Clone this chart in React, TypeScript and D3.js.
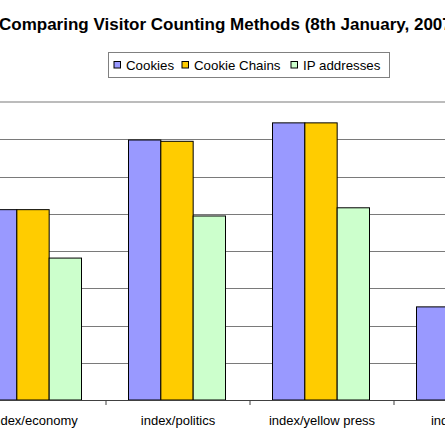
import React from "react";
import * as d3 from "d3";

// chart values (visitors)
const categories = ["index/economy", "index/politics", "index/yellow press", "index/sports"];
const seriesNames = ["Cookies", "Cookie Chains", "IP addresses"];
const cookies = [5110, 6980, 7440, 2500];
const cookieChains = [5110, 6945, 7440, 2420];
const ipAddresses = [3810, 4940, 5160, 1900];
const colors = ["#9999ff", "#ffcc00", "#ccffcc"];
const yTicks = [0, 1000, 2000, 3000, 4000, 5000, 6000, 7000, 8000];

const W = 445;
const H = 445;
const FONT = "'Liberation Sans', Arial, sans-serif";

function App() {
  const series = [cookies, cookieChains, ipAddresses];

  // the plot is wider than the window, only part of it shows
  const x = d3.scaleBand<string>().domain(categories).range([-38, 538]).padding(0);
  const xInner = d3.scaleBand<number>().domain([0, 1, 2]).range([22.5, 119.5]).padding(0);
  const y = d3.scaleLinear().domain([0, 8000]).range([400, 102]);

  const boundaries = categories.slice(1).map((c) => x(c) as number);

  // legend layout
  const legendItems = [
    { name: seriesNames[0], box: 114, text: 126 },
    { name: seriesNames[1], box: 182, text: 194 },
    { name: seriesNames[2], box: 291, text: 303 },
  ];

  return (
    <div style={{ position: "fixed", left: 0, top: 0 }}>
      <svg width={W} height={H} style={{ display: "block", background: "#fff" }}>
        <text x={-1} y={30} fontFamily={FONT} fontWeight="bold" fontSize={17} fill="#000">
          Comparing Visitor Counting Methods (8th January, 2007)
        </text>

        {/* legend */}
        <rect x={108.5} y={52.5} width={281} height={25} fill="#fff" stroke="#808080" strokeWidth={1} />
        {legendItems.map((d, i) => (
          <g key={d.name}>
            <rect x={d.box} y={61.5} width={6.5} height={6.5} fill={colors[i]} stroke="#000" strokeWidth={1} />
            <text x={d.text} y={69.5} fontFamily={FONT} fontSize={13.3} fill="#000">
              {d.name}
            </text>
          </g>
        ))}

        {/* grid */}
        {yTicks.slice(1, -1).map((t) => (
          <line key={t} x1={0} x2={W} y1={Math.round(y(t)) + 0.5} y2={Math.round(y(t)) + 0.5} stroke="#7a7a7a" strokeWidth={1} />
        ))}
        <line x1={0} x2={W} y1={y(8000)} y2={y(8000)} stroke="#a6a6a6" strokeWidth={1.5} />

        {/* bars */}
        {categories.map((c) => (
          <g key={c} transform={`translate(${x(c)},0)`}>
            {series.map((vals, si) => {
              const v = vals[categories.indexOf(c)];
              return (
                <rect
                  key={si}
                  x={xInner(si)}
                  y={y(v)}
                  width={xInner.bandwidth()}
                  height={y(0) - y(v)}
                  fill={colors[si]}
                  stroke="#000"
                  strokeWidth={1}
                />
              );
            })}
          </g>
        ))}

        {/* x axis */}
        <line x1={0} x2={W} y1={400.5} y2={400.5} stroke="#404040" strokeWidth={1} />
        {boundaries.map((b, i) => (
          <line key={i} x1={b} x2={b} y1={400} y2={405} stroke="#404040" strokeWidth={1} />
        ))}
        {categories.map((c) => (
          <text
            key={c}
            x={(x(c) as number) + x.bandwidth() / 2}
            y={425}
            textAnchor="middle"
            fontFamily={FONT}
            fontSize={13}
            fill="#000"
          >
            {c}
          </text>
        ))}
      </svg>
    </div>
  );
}

export default App;
